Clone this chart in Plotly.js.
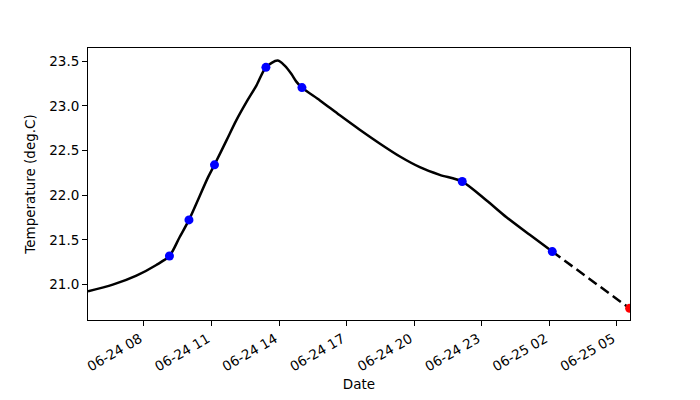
<!DOCTYPE html>
<html>
<head>
<meta charset="utf-8">
<script src="https://cdn.plot.ly/plotly-3.0.1.min.js"></script>
<style>
  body { margin: 0; }
  #chart { width: 700px; height: 400px; }
</style>
</head>
<body>
<div id="chart"></div>
<script>
// fitted curve
const curveTimes = [
  '2019-06-24 05:31', '2019-06-24 06:37', '2019-06-24 07:40', '2019-06-24 08:33',
  '2019-06-24 09:08', '2019-06-24 09:35', '2019-06-24 10:00', '2019-06-24 10:51',
  '2019-06-24 11:08', '2019-06-24 11:40', '2019-06-24 12:06', '2019-06-24 12:33',
  '2019-06-24 13:00', '2019-06-24 13:25', '2019-06-24 13:56', '2019-06-24 14:15',
  '2019-06-24 14:33', '2019-06-24 14:46', '2019-06-24 15:01', '2019-06-24 15:49',
  '2019-06-24 16:42', '2019-06-24 17:35', '2019-06-24 18:29', '2019-06-24 19:22',
  '2019-06-24 20:15', '2019-06-24 21:08', '2019-06-24 22:08', '2019-06-24 23:13',
  '2019-06-25 00:06', '2019-06-25 01:08', '2019-06-25 02:08'
]
const curveTemps = [
  20.925, 21.000, 21.101, 21.220,
  21.321, 21.530, 21.724, 22.202,
  22.340, 22.613, 22.837, 23.041,
  23.228, 23.430, 23.505, 23.449,
  23.355, 23.270, 23.203, 23.060,
  22.893, 22.732, 22.576, 22.433,
  22.314, 22.228, 22.153, 21.941,
  21.754, 21.557, 21.370
]

// measured points
const obsTimes = [
  '2019-06-24 09:08', '2019-06-24 10:00', '2019-06-24 11:08', '2019-06-24 13:25',
  '2019-06-24 15:01', '2019-06-24 22:08', '2019-06-25 02:08'
]
const obsTemps = [21.321, 21.724, 22.340, 23.430, 23.203, 22.153, 21.370]

// forecast
const fcTimes = ['2019-06-25 02:08', '2019-06-25 05:34']
const fcTemps = [21.370, 20.735]

const tickFont = { family: 'DejaVu Sans', size: 13.5, color: '#000' }

const data = [{
  x: curveTimes,
  y: curveTemps,
  type: 'scatter',
  mode: 'lines',
  line: { color: '#000', width: 2.5, shape: 'spline', smoothing: 0.8 },
  hoverinfo: 'skip'
}, {
  x: fcTimes,
  y: fcTemps,
  type: 'scatter',
  mode: 'lines',
  line: { color: '#000', width: 2.5, dash: '10px,5px' }
}, {
  x: obsTimes,
  y: obsTemps,
  type: 'scatter',
  mode: 'markers',
  marker: { color: '#0000ff', size: 9 }
}, {
  x: [fcTimes[1]],
  y: [fcTemps[1]],
  type: 'scatter',
  mode: 'markers',
  marker: { color: '#ff0000', size: 9 }
}]

const layout = {
  width: 700,
  height: 400,
  showlegend: false,
  paper_bgcolor: '#fff',
  plot_bgcolor: '#fff',
  margin: { l: 88, r: 70, t: 48, b: 80 },
  font: tickFont,
  xaxis: {
    type: 'date',
    range: ['2019-06-24 05:31', '2019-06-25 05:35'],
    tick0: '2019-06-24 02:00',
    dtick: 3 * 3600 * 1000,
    tickformat: '%m-%d %H',
    tickangle: -30,
    ticklabelshift: -4,
    ticks: 'outside',
    ticklen: 5,
    tickcolor: '#000',
    showgrid: false,
    zeroline: false,
    showline: true,
    linecolor: '#000',
    linewidth: 1,
    mirror: true,
    tickfont: tickFont,
    title: { text: 'Date', font: tickFont, standoff: 6 }
  },
  yaxis: {
    range: [20.605, 23.646],
    dtick: 0.5,
    tick0: 21,
    tickformat: '.1f',
    ticks: 'outside',
    ticklen: 5,
    tickcolor: '#000',
    showgrid: false,
    zeroline: false,
    showline: true,
    linecolor: '#000',
    linewidth: 1,
    mirror: true,
    tickfont: tickFont,
    title: { text: 'Temperature (deg.C)', font: tickFont, standoff: 10 }
  }
}

Plotly.newPlot('chart', data, layout, { displayModeBar: false, staticPlot: true })
</script>
</body>
</html>
